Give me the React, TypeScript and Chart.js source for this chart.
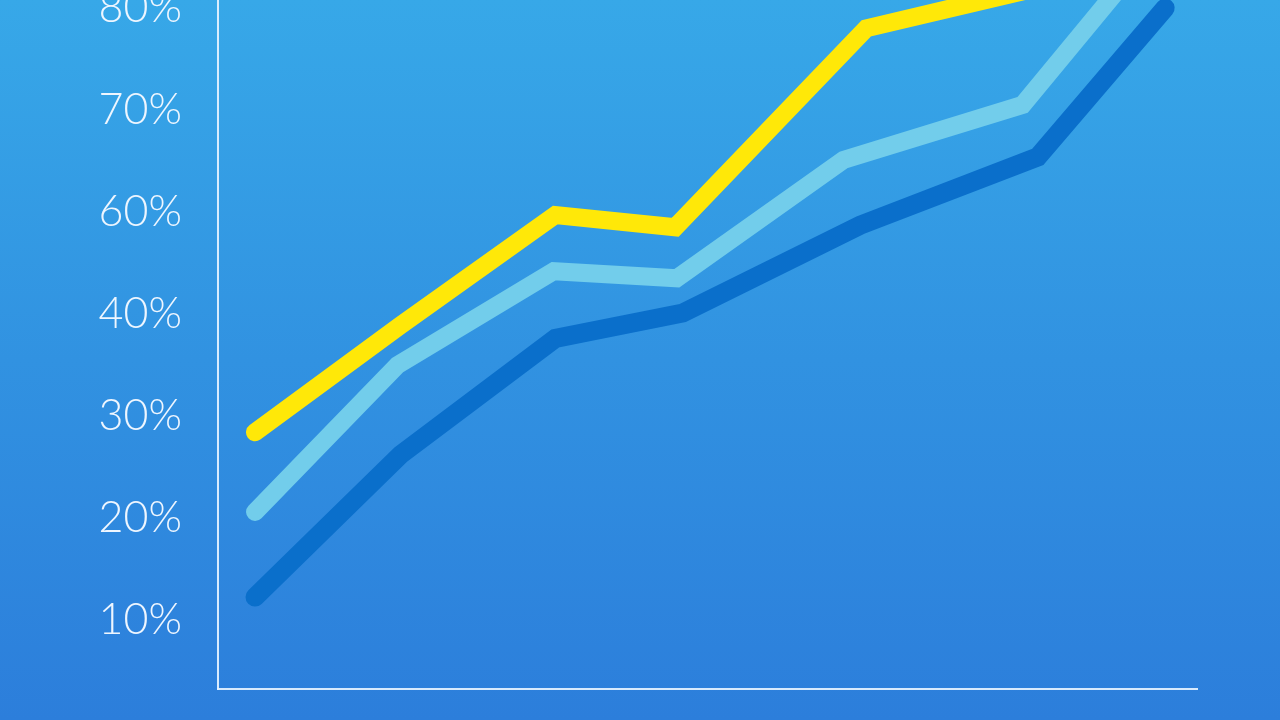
import React, { useEffect, useRef } from "react";
import { Chart, registerables } from "chart.js";

Chart.register(...registerables);

// Tick positions on the value axis and the labels printed beside them
const yTickValues = [10, 20, 30, 40, 50, 60, 70];
const yTickLabels = ["10%", "20%", "30%", "40%", "60%", "70%", "80%"];

// Series (x in step units, y in axis units)
const yellowX = [0, 0.96, 1.98, 2.77, 4.03, 5.11, 6.0];
const yellowY = [28.4, 38.9, 49.7, 48.5, 68.0, 71.8, 87.0];

const lightX = [0, 0.94, 1.97, 2.78, 3.88, 5.06, 6.0];
const lightY = [20.6, 35.0, 44.2, 43.5, 55.1, 60.5, 77.4];

const darkX = [0, 0.96, 1.98, 2.82, 3.99, 5.16, 6.0];
const darkY = [12.25, 26.2, 37.6, 40.1, 48.7, 55.4, 70.0];

const X_MIN = -0.244;
const X_MAX = 6.21;
const Y_MIN = 3.24;
const Y_MAX = 71.76;

const toPoints = (xs: number[], ys: number[]) => xs.map((x, i) => ({ x, y: ys[i] }));

export default function App() {
  const canvasRef = useRef<HTMLCanvasElement | null>(null);

  useEffect(() => {
    if (!canvasRef.current) return;
    const lineStyle = {
      pointRadius: 0,
      pointHoverRadius: 0,
      borderCapStyle: "round" as const,
      borderJoinStyle: "miter" as const,
      tension: 0,
      clip: false as const,
      fill: false,
    };
    const chart = new Chart(canvasRef.current, {
      type: "line",
      data: {
        datasets: [
          { ...lineStyle, label: "dark", data: toPoints(darkX, darkY), borderColor: "#0A6FCB", borderWidth: 19 },
          { ...lineStyle, label: "light", data: toPoints(lightX, lightY), borderColor: "#72CDEB", borderWidth: 18 },
          { ...lineStyle, label: "yellow", data: toPoints(yellowX, yellowY), borderColor: "#FFE808", borderWidth: 18 },
        ],
      },
      options: {
        animation: false,
        responsive: false,
        maintainAspectRatio: false,
        layout: { padding: { top: 30, right: 83, bottom: 0, left: 0 } },
        plugins: { legend: { display: false }, tooltip: { enabled: false } },
        scales: {
          x: {
            type: "linear",
            min: X_MIN,
            max: X_MAX,
            grid: { display: false, drawTicks: false },
            ticks: { display: false },
            border: { display: true, color: "rgba(225,240,255,0.95)", width: 2 },
            afterFit: (scale: any) => {
              scale.height = 31;
              scale.paddingLeft = 0;
              scale.paddingRight = 0;
            },
          },
          y: {
            type: "linear",
            min: Y_MIN,
            max: Y_MAX,
            grid: { display: false, drawTicks: false },
            border: { display: true, color: "rgba(225,240,255,0.95)", width: 2 },
            afterBuildTicks: (scale: any) => {
              scale.ticks = yTickValues.map((v) => ({ value: v }));
            },
            afterFit: (scale: any) => {
              scale.width = 218;
              scale.paddingTop = 0;
              scale.paddingBottom = 0;
            },
            ticks: {
              padding: 36,
              color: "#EEF6FF",
              font: { family: "Lato, 'Open Sans', sans-serif", size: 43, weight: 300 },
              callback: (value: any) => {
                const i = yTickValues.indexOf(Number(value));
                return i >= 0 ? yTickLabels[i] : "";
              },
            },
          },
        },
      },
    });
    return () => chart.destroy();
  }, []);

  return (
    <div
      style={{
        position: "fixed",
        left: 0,
        top: 0,
        width: 1280,
        height: 720,
        overflow: "hidden",
        background: "linear-gradient(180deg, #37A8E8 0%, #3192E1 50%, #2C7EDB 100%)",
      }}
    >
      <canvas
        ref={canvasRef}
        width={1280}
        height={760}
        style={{ position: "absolute", left: 0, top: -40, width: 1280, height: 760 }}
      />
    </div>
  );
}
